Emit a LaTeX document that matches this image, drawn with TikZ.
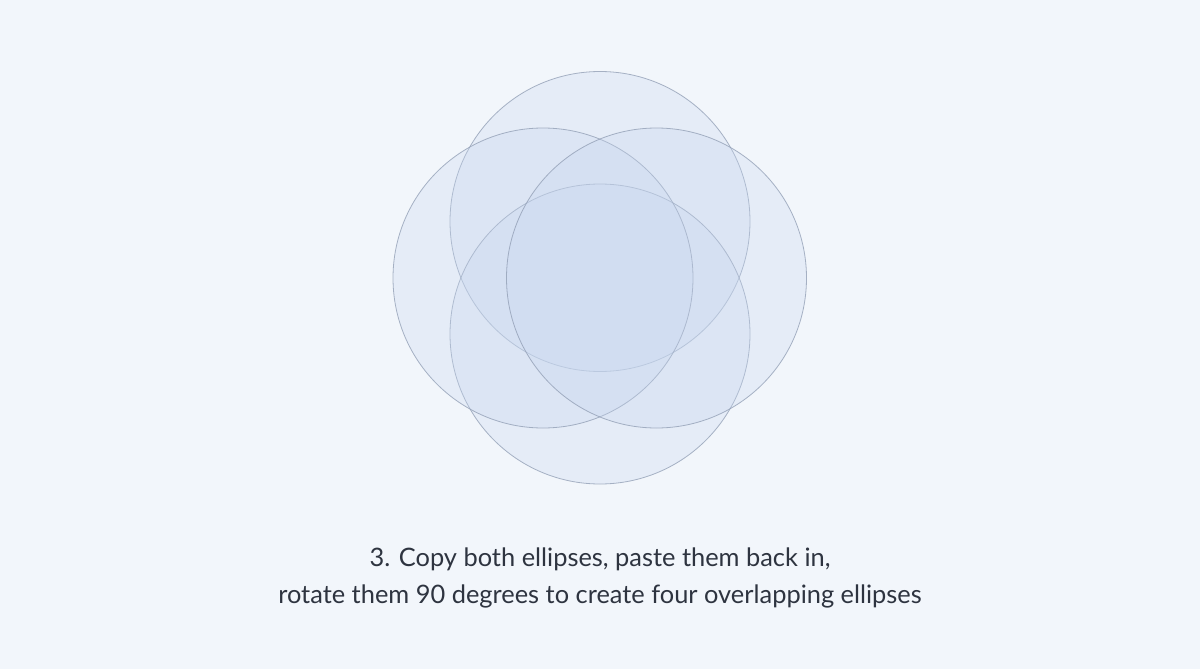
\documentclass[tikz,border=0pt]{standalone}
\usepackage{fontspec}
\setmainfont{Lato}
\definecolor{bg}{HTML}{F2F6FB}
\definecolor{cfill}{HTML}{C8D7EF}
\definecolor{cline}{HTML}{8E9BB2}
\definecolor{txt}{HTML}{2E3440}
\tikzset{
  circ/.style={draw=cline, line width=0.8pt, fill=cfill, fill opacity=0.3, draw opacity=0.75},
  lbl/.style={text=txt, font=\fontsize{25.4}{30}\selectfont, anchor=base, inner sep=0pt}
}
\begin{document}
\begin{tikzpicture}[x=1pt,y=-1pt]
\fill[bg] (0,0) rectangle (1200,669);
\useasboundingbox (0,0) rectangle (1200,669);
\node[circ, circle, minimum size=300pt, inner sep=0pt] (top) at (600,221.5) {};
\node[circ, circle, minimum size=300pt, inner sep=0pt] (bottom) at (600,334) {};
\node[circ, circle, minimum size=300pt, inner sep=0pt] (left) at (543,278) {};
\node[circ, circle, minimum size=300pt, inner sep=0pt] (right) at (656.5,278) {};
\node[lbl] (l1) at (600,566.5) {3. Copy both ellipses, paste them back in,};
\node[lbl] (l2) at (600,603) {rotate them 90 degrees to create four overlapping ellipses};
\end{tikzpicture}
\end{document}
